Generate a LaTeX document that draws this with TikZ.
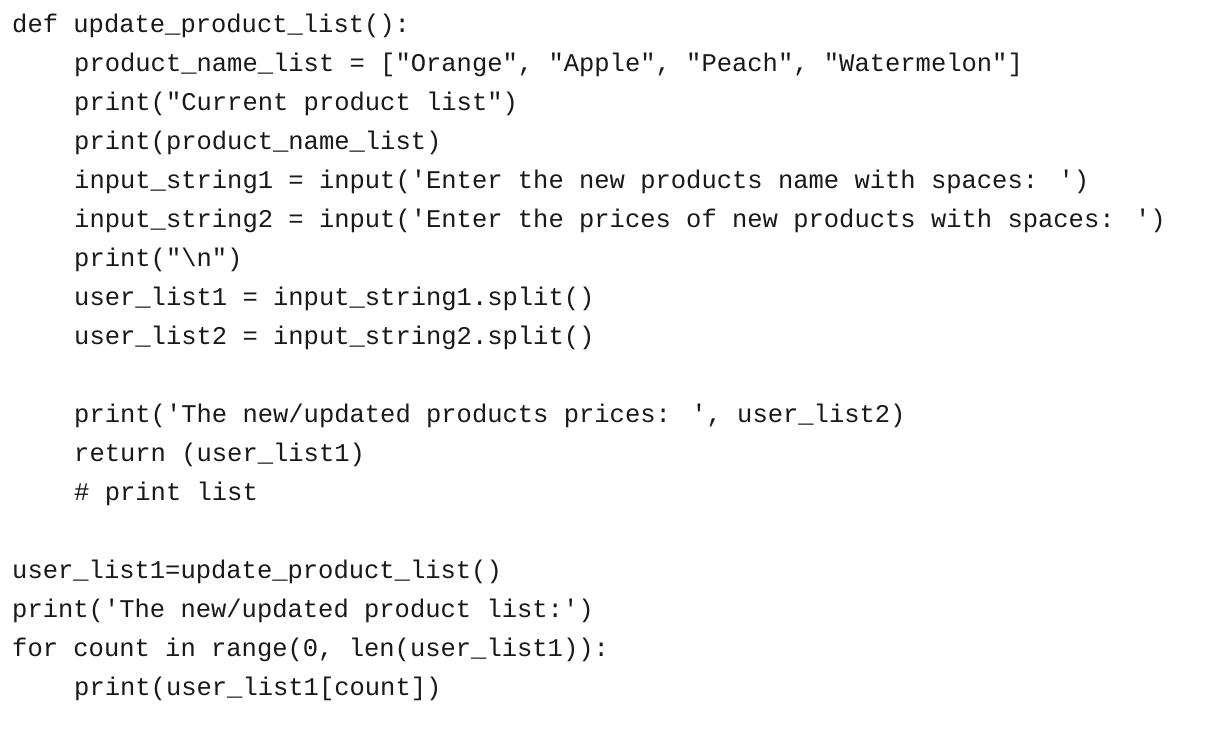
\documentclass[tikz,border=0pt]{standalone}
\usepackage{fontspec}
\newfontfamily\codefont{Liberation Mono}
\begin{document}
\begin{tikzpicture}[x=1pt,y=-1pt,
  codeline/.style={anchor=base west,inner sep=0pt,font=\codefont\fontsize{25.5}{30}\selectfont,text=black!90}]
\useasboundingbox (0,0) rectangle (1230,732);
\fill[white] (0,0) rectangle (1230,732);
\def\b{8}
\node[codeline] (l1) at (12,24+\b) {def update\_product\_list():};
\node[codeline] (l2) at (74,63+\b) {product\_name\_list = ["Orange", "Apple", "Peach", "Watermelon"]};
\node[codeline] (l3) at (74,102+\b) {print("Current product list")};
\node[codeline] (l4) at (74,141+\b) {print(product\_name\_list)};
\node[codeline] (l5) at (74,180+\b) {input\_string1 = input('Enter the new products name with spaces: ')};
\node[codeline] (l6) at (74,219+\b) {input\_string2 = input('Enter the prices of new products with spaces: ')};
\node[codeline] (l7) at (74,258+\b) {print("\textbackslash n")};
\node[codeline] (l8) at (74,297+\b) {user\_list1 = input\_string1.split()};
\node[codeline] (l9) at (74,336+\b) {user\_list2 = input\_string2.split()};
\node[codeline] (l10) at (74,414+\b) {print('The new/updated products prices: ', user\_list2)};
\node[codeline] (l11) at (74,453+\b) {return (user\_list1)};
\node[codeline] (l12) at (74,492+\b) {\# print list};
\node[codeline] (l13) at (12,570+\b) {user\_list1=update\_product\_list()};
\node[codeline] (l14) at (12,609+\b) {print('The new/updated product list:')};
\node[codeline] (l15) at (12,648+\b) {for count in range(0, len(user\_list1)):};
\node[codeline] (l16) at (74,687+\b) {print(user\_list1[count])};
\end{tikzpicture}
\end{document}
